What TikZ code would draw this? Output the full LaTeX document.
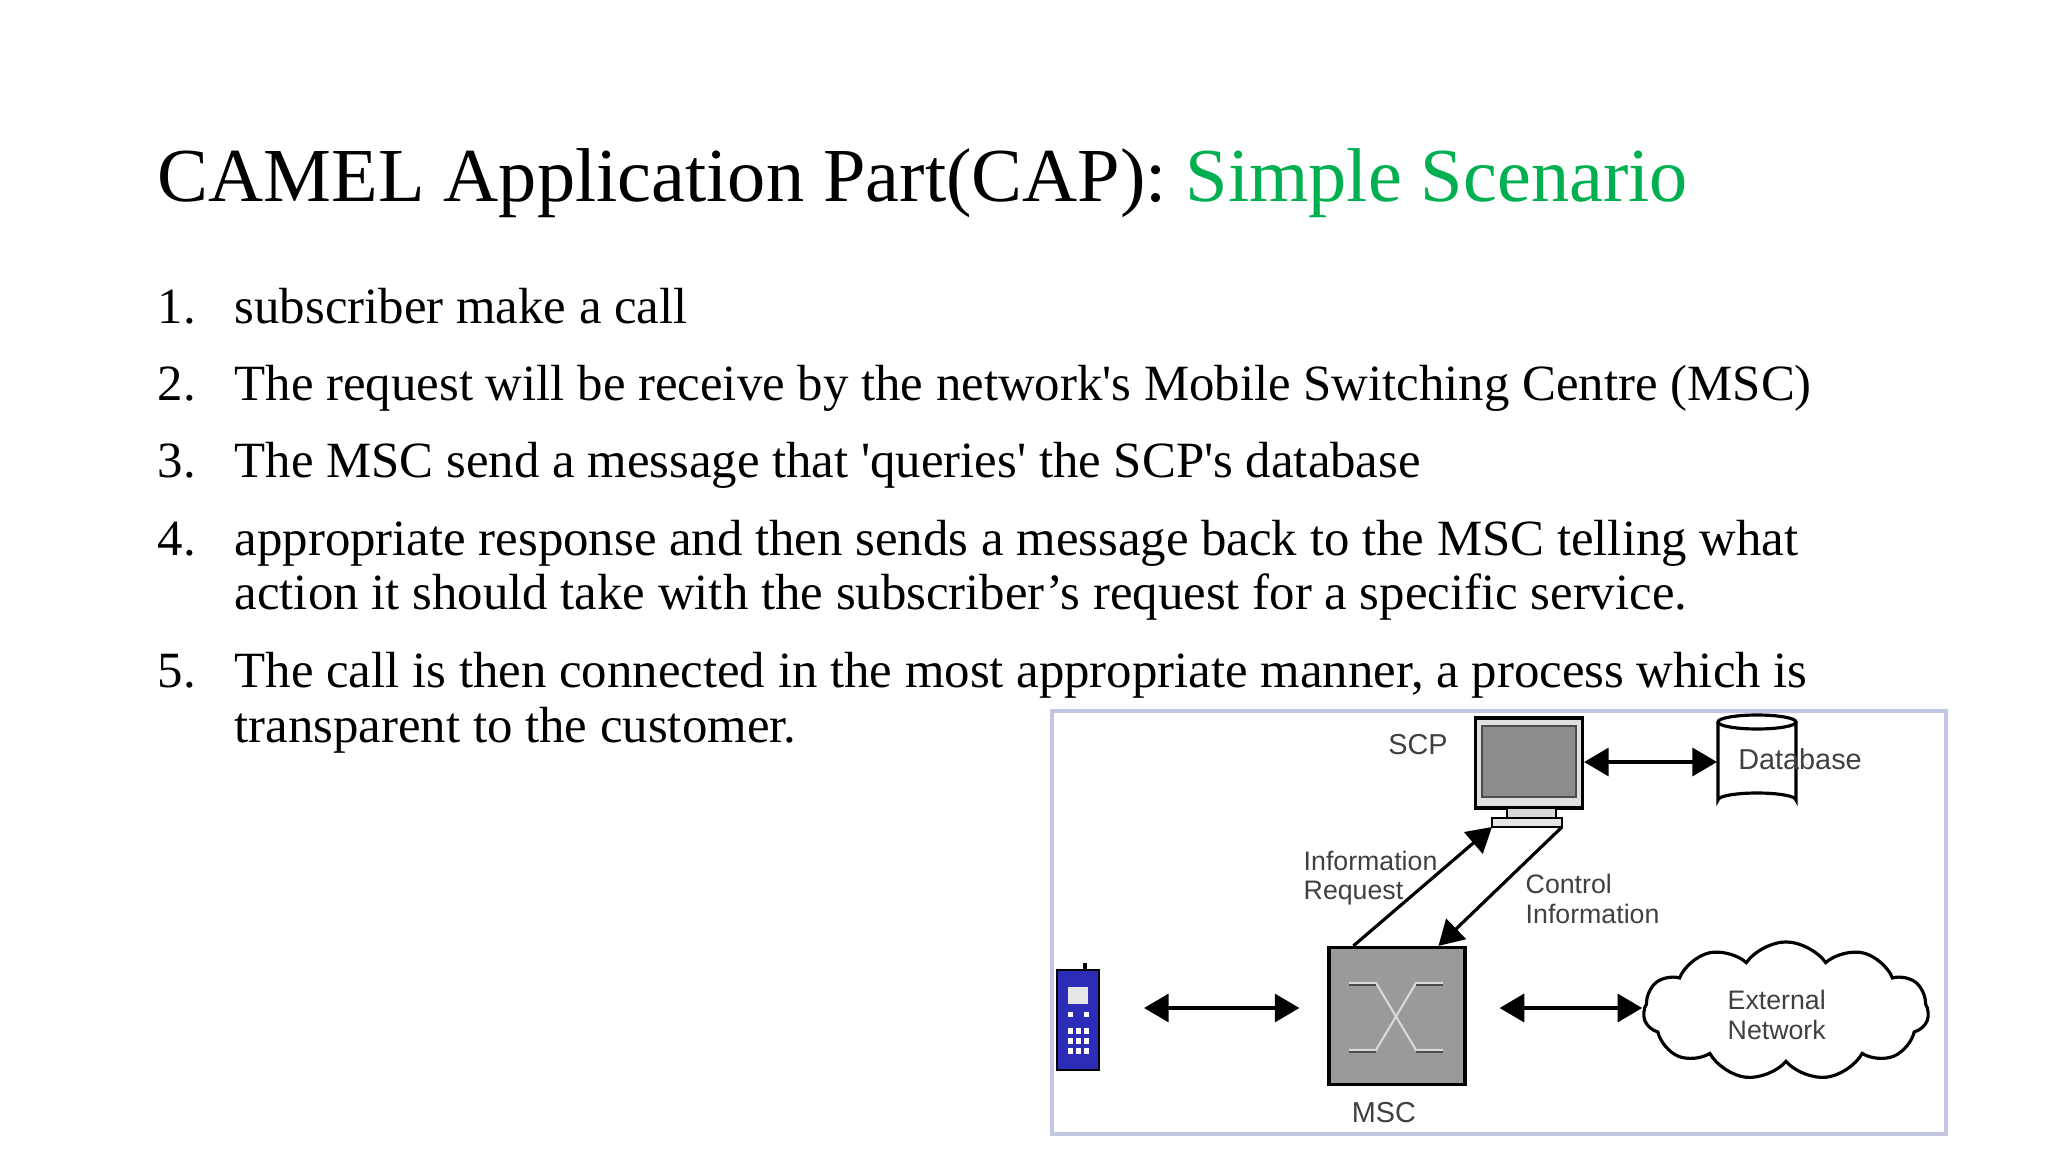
\documentclass[tikz,border=0pt]{standalone}
\usepackage{fontspec}
\setmainfont{Liberation Serif}
\newfontfamily\diag{Liberation Sans}
\usetikzlibrary{arrows.meta,shapes.geometric,shapes.symbols}
\definecolor{titlegreen}{HTML}{00B050}
\definecolor{frame}{HTML}{C3C6E2}
\definecolor{msgray}{HTML}{9A9A9A}
\definecolor{scrgray}{HTML}{8C8C8C}
\definecolor{phoneblue}{HTML}{2C2CB8}
\newcommand{\sq}{{\XeTeXglyph\XeTeXglyphindex"quotesingle"\relax}}
\begin{document}
\begin{tikzpicture}[x=0.01cm,y=-0.01cm,
  title/.style={anchor=base west,inner sep=0,font=\fontsize{21.7}{26}\selectfont},
  item/.style={anchor=base west,inner sep=0,font=\fontsize{14.45}{17}\selectfont},
  lab/.style={inner sep=0,font=\diag\fontsize{7.6}{8.4}\selectfont,text=black!75},
  dbl/.style={line width=0.9pt,{Triangle[length=7pt,width=8pt]}-{Triangle[length=7pt,width=8pt]}},
  one/.style={line width=0.9pt,-{Triangle[length=7pt,width=8pt]}}]
\useasboundingbox (0,0) rectangle (2048,1152);
\fill[white] (0,0) rectangle (2048,1152);
% title
\node[title] (t1) at (157,202) {CAMEL Application Part(CAP): \textcolor{titlegreen}{Simple Scenario}};
% list
\node[item] (n1) at (157,324) {1.};
\node[item] (l1) at (234,324) {subscriber make a call};
\node[item] (n2) at (157,401) {2.};
\node[item] (l2) at (234,401) {The request will be receive by the network\sq s Mobile Switching Centre (MSC)};
\node[item] (n3) at (157,478) {3.};
\node[item] (l3) at (234,478) {The MSC send a message that \sq queries\sq\ the SCP\sq s database};
\node[item] (n4) at (157,555) {4.};
\node[item] (l4) at (234,555) {appropriate response and then sends a message back to the MSC telling what};
\node[item] (l4b) at (234,610) {action it should take with the subscriber’s request for a specific service.};
\node[item] (n5) at (157,687) {5.};
\node[item] (l5) at (234,687) {The call is then connected in the most appropriate manner, a process which is};
\node[item] (l5b) at (234,742) {transparent to the customer.};
% diagram frame
\draw[frame,line width=1.3pt,fill=white] (1052,711) rectangle (1946,1134);
% SCP monitor
\node[draw,line width=0.9pt,fill=black!12,minimum width=1.07cm,minimum height=0.9cm,inner sep=0] (scp) at (1529,763) {};
\fill[scrgray,draw=black!70] (1482,726) rectangle (1576,797);
\draw[fill=black!15,line width=0.7pt] (1507,808) rectangle (1556,818);
\draw[fill=black!10,line width=0.7pt] (1492,818) rectangle (1562,827);
\coordinate (scpl) at (1492,827);
\coordinate (scpr) at (1562,827);
\node[lab,font=\diag\fontsize{8.2}{9}\selectfont] (scpt) at (1418,745) {SCP};
% database
\coordinate (db) at (1757,761);
\draw[line width=0.9pt,fill=white] (1718,722) -- (1718,800) arc[start angle=180,end angle=360,x radius=39,y radius=7] -- (1796,722);
\draw[line width=0.9pt,fill=white] (1757,722) ellipse[x radius=39,y radius=7];
\node[lab,font=\diag\fontsize{8.2}{9}\selectfont] (dbt) at (1800,759) {Database};
\draw[dbl] (scp.east |- 0,762) -- (1717,762);
% MSC
\node[draw,line width=0.9pt,fill=msgray,minimum width=1.36cm,minimum height=1.37cm,inner sep=0] (msc) at (1397,1016) {};
\draw[white!85!black,line width=0.6pt] (1349,983) -- (1376,983) -- (1416,1050) -- (1443,1050);
\draw[white!85!black,line width=0.6pt] (1349,1050) -- (1376,1050) -- (1416,983) -- (1443,983);
\draw[black!70,line width=0.5pt] (1349,985) -- (1376,985) (1416,1052) -- (1443,1052) (1349,1052) -- (1376,1052) (1416,985) -- (1443,985);
\node[lab,font=\diag\fontsize{8.2}{9}\selectfont] (msct) at (1384,1113) {MSC};
% SCP-MSC arrows
\draw[one] ([xshift=0.26cm]msc.north west) -- (scpl);
\draw[one] (scpr) -- ([xshift=1.11cm]msc.north west);
\node[lab,anchor=west,align=left] (ir) at (1303,878) {Information\\Request};
\node[lab,anchor=west,align=left] (ci) at (1525,899) {Control\\Information};
% phone
\node[draw=black,line width=0.6pt,fill=phoneblue,minimum width=0.42cm,minimum height=1.0cm,inner sep=0] (ph) at (1078,1020) {};
\draw[line width=1pt] (1085,970) -- (1085,963);
\fill[white!80!gray] (1068,987) rectangle (1088,1004);
\foreach \i in {0,1,2}{\foreach \j in {0,1,2}{\fill[white] (1068+\i*8,1028+\j*10) rectangle (1073+\i*8,1034+\j*10);}}
\fill[white] (1068,1012) rectangle (1073,1017);\fill[white] (1084,1012) rectangle (1089,1017);
\draw[dbl,shorten >=0.28cm] ([xshift=0.44cm]ph.east |- 0,1008) -- (msc.west |- 0,1008);
% cloud
\node[cloud,cloud puffs=11,cloud puff arc=110,aspect=2,draw,line width=0.9pt,minimum width=2.85cm,minimum height=1.38cm,inner sep=0] (ext) at (1786,1011) {};
\node[lab,anchor=west,align=left] (extt) at (1727,1015) {External\\Network};
\draw[dbl,shorten <=0.33cm] (msc.east |- 0,1008) -- (ext.west |- 0,1008);
\end{tikzpicture}
\end{document}
